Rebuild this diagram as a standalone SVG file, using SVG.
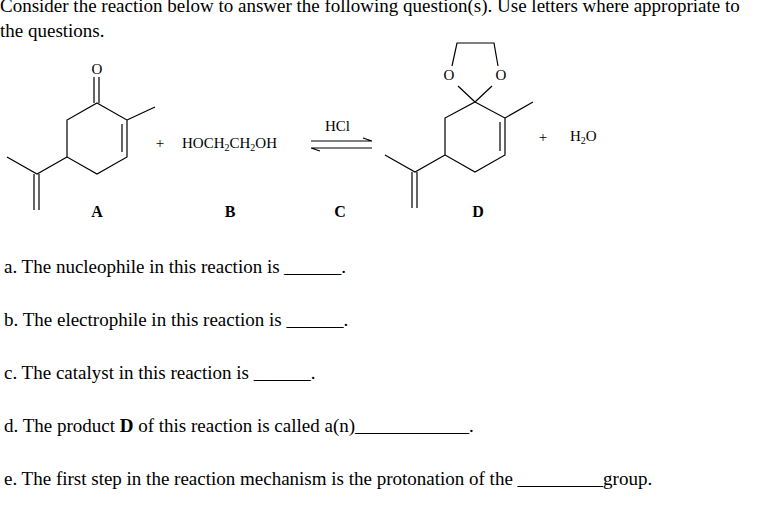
<svg xmlns="http://www.w3.org/2000/svg" width="757" height="527" viewBox="0 0 757 527">
<style>
.b{stroke:#000;stroke-width:1.2;fill:none}
.t{font-family:"Liberation Serif",serif;font-size:19px;fill:#000}
.s{font-family:"Liberation Serif",serif;font-size:15px;fill:#000}
.l{font-family:"Liberation Serif",serif;font-size:16px;font-weight:bold;fill:#000}
</style>
<rect width="757" height="527" fill="#fff"/>
<text class="t" x="0" y="12">Consider the reaction below to answer the following question(s).  Use letters where appropriate to</text>
<text class="t" x="0" y="37">the questions.</text>
<g id="A">
<path class="b" d="M97,103 L127,120 L127,157 L97,174 L67,157 L67,120 Z M122,124 L122,152 M127,120 L155,107 M94,103 L94,77 M99,103 L99,77 M67,157 L37,174 L7,157 M34,174 L34,210 M39,174 L39,210"/>
<text class="s" x="97" y="74" text-anchor="middle">O</text>
</g>
<g id="B">
<text class="s" x="160" y="148" text-anchor="middle">+</text>
<text class="s" x="182" y="148">HOCH<tspan font-size="10" dy="3">2</tspan><tspan dy="-3">CH</tspan><tspan font-size="10" dy="3">2</tspan><tspan dy="-3">OH</tspan></text>
</g>
<g id="arrows">
<text class="s" x="325" y="131">HCl</text>
<path class="b" d="M311,141 L372,141 M372,141 L363,138 M311,148 L372,148 M311,148 L320,151"/>
</g>
<g id="D">
<path class="b" d="M475,102 L505,118 L505,155 L475,172 L445,155 L445,118 Z M500,122 L500,151 M505,118 L533,102 M475,102 L458,86 M475,102 L492,86 M452,66 L457,43 L494,43 L498,66 M445,155 L415,172 L385,155 M412,172 L412,208 M417,172 L417,208"/>
<text class="s" x="449" y="80" text-anchor="middle">O</text>
<text class="s" x="501" y="80" text-anchor="middle">O</text>
<text class="s" x="543" y="142" text-anchor="middle">+</text>
<text class="s" x="570" y="141">H<tspan font-size="10" dy="3">2</tspan><tspan dy="-3">O</tspan></text>
</g>
<text class="l" x="97" y="217" text-anchor="middle">A</text>
<text class="l" x="230" y="217" text-anchor="middle">B</text>
<text class="l" x="340" y="217" text-anchor="middle">C</text>
<text class="l" x="478" y="217" text-anchor="middle">D</text>
<text class="t" x="4" y="273">a.  The nucleophile in this reaction is ______.</text>
<text class="t" x="4" y="326">b.  The electrophile in this reaction is ______.</text>
<text class="t" x="4" y="379">c.  The catalyst in this reaction is ______.</text>
<text class="t" x="4" y="432">d.  The product <tspan font-weight="bold">D</tspan> of this reaction is called a(n)____________.</text>
<text class="t" x="4" y="485">e.  The first step in the reaction mechanism is the protonation of the _________group.</text>
</svg>
